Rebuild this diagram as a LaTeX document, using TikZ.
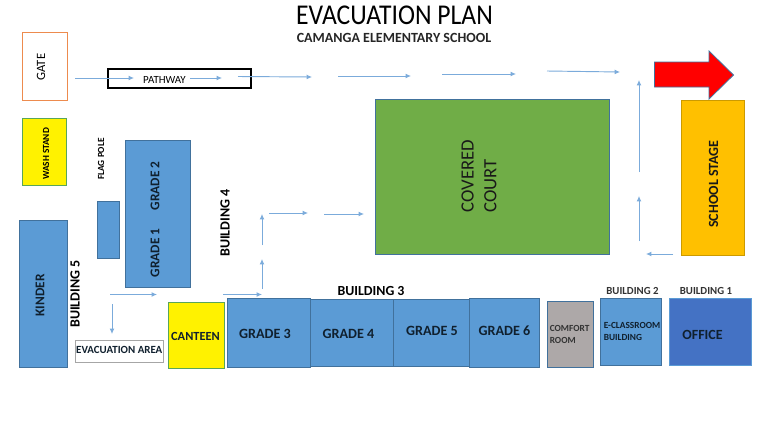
\documentclass[tikz,border=0pt]{standalone}
\usepackage{fontspec}
\setmainfont{Carlito}
\definecolor{bluebox}{HTML}{5B9BD5}
\definecolor{blueedge}{HTML}{41719C}
\definecolor{officeblue}{HTML}{4472C4}
\definecolor{courtgreen}{HTML}{70AD47}
\definecolor{stagegold}{HTML}{FFC000}
\definecolor{greybox}{HTML}{ADA8A8}
\definecolor{gateedge}{HTML}{ED8B4E}
\definecolor{arrowblue}{HTML}{7BABDB}
\definecolor{inktext}{HTML}{10202E}
\usetikzlibrary{arrows.meta}
\tikzset{
  x=0.75pt,y=-0.75pt,
  room/.style={draw=#1,line width=0.8pt,inner sep=0pt,anchor=north west,align=center,text=inktext},
  bluerm/.style={room=blueedge,fill=bluebox},
  flow/.style={draw=arrowblue,line width=0.7pt,-{Latex[length=4pt,width=3.6pt]}},
  lab/.style={inner sep=0pt,text=black,align=center},
  sz/.style={font=\fontsize{#1}{#1}\selectfont},
}
\newcommand{\boxat}[7][]{\node[#2,minimum width=#5*0.75pt-#3*0.75pt,minimum height=#6*0.75pt-#4*0.75pt,#1] (#7) at (#3-0.5,#4-0.4) {};}
\begin{document}
\begin{tikzpicture}
\useasboundingbox (0,0) rectangle (768,433);
\fill[white] (0,0) rectangle (768,433);
% boxes
\boxat{room=gateedge}{22.5}{32.5}{67.5}{100}{gate}
\draw[black,line width=1.5pt] (108,69) rectangle (251,88);
\boxat{room=gray!70!green,fill=yellow}{22.5}{118}{66}{185}{wash}
\boxat{bluerm}{97}{201}{119}{258}{flag}
\boxat{bluerm}{125.5}{140}{190.5}{287}{grades}
\boxat{bluerm}{19.5}{220}{67.5}{367}{kinder}
\boxat{room=gray!70,fill=white}{75}{340.5}{163.5}{362.5}{evac}
\boxat{room=gray!70!green,fill=yellow}{168}{302}{224}{368.5}{canteen}
\boxat{bluerm}{310.5}{299.5}{394}{366.5}{g4}
\boxat{bluerm}{393}{299.5}{469}{366.5}{g5}
\boxat{bluerm}{227.5}{298.5}{310.5}{367.5}{g3}
\boxat{bluerm}{469}{298.5}{539}{367.5}{g6}
\boxat{room=blueedge,fill=greybox}{547}{301}{593}{367.5}{comfort}
\boxat{bluerm}{600.5}{298.5}{661.5}{365.5}{eclass}
\boxat{room=bluebox,fill=officeblue}{669}{298.5}{751.5}{365.5}{office}
\boxat{room=blueedge,fill=courtgreen}{375.5}{99.5}{609}{254.5}{court}
\boxat{room=stagegold!80!black,fill=stagegold}{681.5}{100}{744.5}{255}{stage}
\draw[blueedge,fill=red,line width=0.6pt] (654.5,62) -- (709,62) -- (709,51) -- (733.5,75) -- (709,99) -- (709,87) -- (654.5,87) -- cycle;
% titles
\node[lab,sz=21.5,xscale=0.895] (title) at (394.5,15) {EVACUATION PLAN};
\node[lab,font=\fontsize{10.5}{10.5}\selectfont\bfseries,text=black!85] (sub) at (394,38) {CAMANGA ELEMENTARY SCHOOL};
% labels
\node[lab,rotate=90,sz=9.5] at (41,67) {GATE};
\node[lab,sz=8.2] (pathl) at (164.5,79.5) {PATHWAY};
\node[lab,rotate=90,sz=7] at (46,154) {\textbf{WASH STAND}};
\node[lab,rotate=90,sz=7] (flagl) at (101,159) {\textbf{FLAG POLE}};
\node[lab,rotate=90,sz=10,text=inktext] at (155,186) {\textbf{GRADE 2}};
\node[lab,rotate=90,sz=10,text=inktext] at (155,253) {\textbf{GRADE 1}};
\node[lab,rotate=90,sz=10,text=inktext] at (40,295.5) {\textbf{KINDER}};
\node[lab,rotate=90,sz=10.5] (b5) at (75,294) {\textbf{BUILDING 5}};
\node[lab,rotate=90,sz=10.5] (b4) at (225,223) {\textbf{BUILDING 4}};
\node[lab,sz=8.2,text=inktext] at (119.3,349.5) {\textbf{EVACUATION AREA}};
\node[lab,sz=9.3,text=inktext] at (195.5,336) {\textbf{CANTEEN}};
\node[lab,sz=10.6,text=inktext] at (265,333.5) {\textbf{GRADE 3}};
\node[lab,sz=10.6,text=inktext] at (348.5,333.5) {\textbf{GRADE 4}};
\node[lab,sz=10.6,text=inktext] at (432,330.5) {\textbf{GRADE 5}};
\node[lab,sz=10.6,text=inktext] at (504.5,330.5) {\textbf{GRADE 6}};
\node[lab,sz=10.4] (b3) at (371,290.5) {\textbf{BUILDING 3}};
\node[lab,sz=7,text=black!80,align=left,anchor=west] at (549.5,334.5) {\textbf{COMFORT}\\[2pt]\textbf{ROOM}};
\node[lab,sz=7,text=inktext,align=left,anchor=west] at (603.5,331) {\textbf{E-CLASSROOM}\\[2pt]\textbf{BUILDING}};
\node[lab,sz=8.1,text=black!80] (b2) at (632.5,291) {\textbf{BUILDING 2}};
\node[lab,sz=8.1,text=black!80] (b1) at (706,291) {\textbf{BUILDING 1}};
\node[lab,sz=10.5,text=inktext] at (702.5,334.5) {\textbf{OFFICE}};
\node[lab,rotate=90,sz=14,text=black!90,align=left] at (479,176) {COVERED\\[3pt]COURT};
\node[lab,rotate=90,sz=10.5,text=black!90] at (713.5,184) {\textbf{SCHOOL STAGE}};
% flow arrows
\foreach \n/\xa/\ya/\xb/\yb in {
 a/75/78/134/78, b/190/78/222/78, c/238/76.5/312/77, d/338/76/411/76,
 e/442/74/516/74, f/547/71/620/72, g/639/172/639/80, h/639/241/639/196,
 i/673/254/646/254, j/110/294.5/157/294.5, k/112/304/112/334,
 l/223/294.5/262/294.5, m/262/289/262/259, n/262/245/262/214,
 o/269/213/308/213, p/324/214/364/214}{
  \coordinate (\n s) at (\xa,\ya);
  \coordinate (\n e) at (\xb,\yb);
  \draw[flow] (\n s) -- (\n e);
}
\end{tikzpicture}
\end{document}
